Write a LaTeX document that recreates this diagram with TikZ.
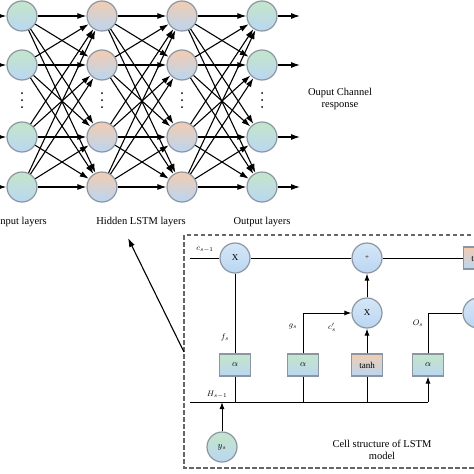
\documentclass[tikz,border=0pt]{standalone}
\usepackage{fontspec}
\setmainfont{Liberation Serif}
\usetikzlibrary{arrows.meta,shadings}
\definecolor{gtop}{RGB}{196,230,200}
\definecolor{gmid}{RGB}{214,234,232}
\definecolor{bbot}{RGB}{186,214,242}
\definecolor{otop}{RGB}{242,204,176}
\definecolor{omid}{RGB}{226,218,222}
\definecolor{rimc}{RGB}{140,150,162}
\tikzset{
  ballg/.style={circle, minimum size=30pt, inner sep=0pt, draw=rimc, line width=1.2pt,
    top color=gtop, middle color=gmid, bottom color=bbot},
  ballo/.style={circle, minimum size=30pt, inner sep=0pt, draw=rimc, line width=1.2pt,
    top color=otop, middle color=omid, bottom color=bbot},
  ballb/.style={circle, minimum size=30pt, inner sep=0pt, draw=rimc, line width=1.2pt,
    top color=bbot!60!white, bottom color=bbot},
  boxg/.style={rectangle, minimum width=31pt, minimum height=22pt, inner sep=0pt, draw=rimc, line width=1.2pt,
    top color=gtop, bottom color=bbot},
  boxo/.style={rectangle, minimum width=31pt, minimum height=22pt, inner sep=0pt, draw=rimc, line width=1.2pt,
    top color=otop, bottom color=bbot},
  conn/.style={-{Latex[length=9pt,width=6pt]}, line width=1.1pt},
  cconn/.style={-{Latex[length=7pt,width=5pt]}, line width=1pt},
  cline/.style={line width=1pt},
  lbl/.style={font=\fontsize{10.5}{12.5}\selectfont, inner sep=0pt},
  clbl/.style={font=\fontsize{8.5}{9}\selectfont, inner sep=0pt},
  dotc/.style={circle, fill=black, inner sep=0pt, minimum size=2pt},
}
\begin{document}
\begin{tikzpicture}[x=1pt,y=-1pt]
\useasboundingbox (0,0) rectangle (474,474);
\clip (0,0) rectangle (474,474);
% network columns
\foreach \r/\y in {0/16,1/65,2/137,3/187}{
  \node[ballg] (in\r) at (22,\y) {};
  \node[ballo] (ha\r) at (102,\y) {};
  \node[ballo] (hb\r) at (182,\y) {};
  \node[ballg] (out\r) at (262,\y) {};
  \coordinate (src\r) at (0,\y);
  \coordinate (dst\r) at (300,\y);
  \draw[conn] (src\r) -- (in\r);
  \draw[conn] (out\r) -- (dst\r);
}
\foreach \a in {0,1,2,3}{
  \foreach \b in {0,1,2,3}{
    \draw[conn] (in\a) -- (ha\b);
    \draw[conn] (ha\a) -- (hb\b);
    \draw[conn] (hb\a) -- (out\b);
  }
}
\foreach \x/\n in {22/a,102/b,182/c,262/d}{
  \node[dotc] (d1\n) at (\x,93) {};
  \node[dotc] (d2\n) at (\x,100) {};
  \node[dotc] (d3\n) at (\x,107) {};
}
% labels
\node[lbl, anchor=east] (linp) at (47,222) {Input layers};
\node[lbl] (lhid) at (141,222) {Hidden LSTM layers};
\node[lbl] (lout) at (262,222) {Output layers};
\node[lbl, align=center] (lresp) at (340,99) {Ouput Channel\\response};
% cell box
\draw[line width=1.1pt, draw=black!60, dash pattern=on 4.5pt off 2.5pt] (184,235) rectangle (490,468);
\coordinate (cellp) at (184,352);
\coordinate (hidp) at (128,238);
\draw[conn] (cellp) -- (hidp);
% cell nodes
\coordinate (cs) at (190,258);
\node[ballb] (X1) at (235,258) {\small X};
\node[ballb] (plus) at (367,258) {\scriptsize +};
\node[boxo] (tanhR) at (479,258) {\small tanh};
\node[ballb] (X2) at (367,313) {\small X};
\node[ballb] (circR) at (478,313) {};
\node[boxg] (a1) at (235,365) {\small $\alpha$};
\node[boxg] (a2) at (303,365) {\small $\alpha$};
\node[boxo] (th) at (367,365) {\small tanh};
\node[boxg] (a4) at (428,365) {\small $\alpha$};
\node[ballg] (ys) at (222,447) {\small $y_s$};
\coordinate (Hs) at (190,402);
\coordinate (He) at (428,402);
% cell connections
\draw[cline] (cs) -- (X1) -- (plus) -- (tanhR);
\draw[cline] (X1) -- (a1);
\draw[cline] (a1) -- (a1 |- Hs);
\draw[cline] (a2) -- (a2 |- Hs);
\draw[cline] (th) -- (th |- Hs);
\draw[cline] (Hs) -- (He);
\draw[cconn] (He) -- (a4);
\draw[cconn] (ys) -- (ys |- Hs);
\draw[cconn] (a2) |- (X2);
\draw[cconn] (th) -- (X2);
\draw[cconn] (X2) -- (plus);
\draw[cline] (a4) |- (circR);
% cell labels
\node[clbl] (lc) at (205,250) {$c_{s-1}$};
\node[clbl] (lf) at (225,337) {$f_s$};
\node[clbl] (lg) at (293,327) {$g_s$};
\node[clbl] (lcp) at (332,327) {$c'_s$};
\node[clbl] (lo) at (418,323) {$O_s$};
\node[clbl] (lH) at (217,395) {$H_{s-1}$};
\node[lbl, align=center] (lcell) at (382,450) {Cell structure of LSTM\\model};
\end{tikzpicture}
\end{document}
